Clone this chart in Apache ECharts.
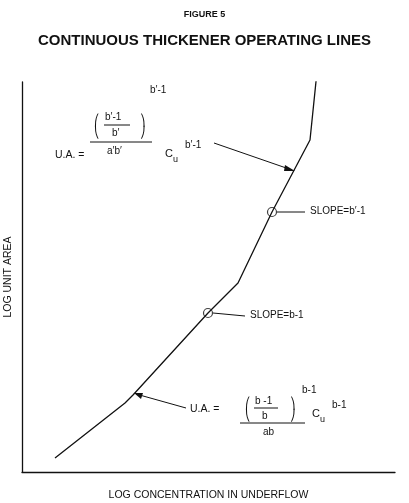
<!DOCTYPE html><html><head><meta charset="utf-8">
<script src="https://cdn.jsdelivr.net/npm/echarts@6/dist/echarts.min.js"></script>
<style>body{margin:0;background:#fff}#c{width:409px;height:503px}</style></head><body><div id="c"></div>
<script>
// log concentration (x) vs log unit area (y), arbitrary log units
const lineX = [33, 103, 111, 186, 216, 250, 288, 296];
const lineY = [14, 69, 77, 159, 189, 260, 332, 410];
const pointX = [186, 250];
const pointY = [159, 260];
const slopeLabels = ['SLOPE=b-1', "SLOPE=b\u2032-1"];
const F = 'Liberation Sans, Arial, sans-serif';
const chart = echarts.init(document.getElementById('c'));
function t(x,y,s,size,extra){return Object.assign({type:'text',x:x,y:y,style:{text:s,font:(size||10)+'px '+F,fill:'#111'}},extra||{});}
function ln(x1,y1,x2,y2){return {type:'line',shape:{x1,y1,x2,y2},style:{stroke:'#111',lineWidth:1}};}
chart.setOption({
  animation:false,
  title:[{text:'FIGURE 5',left:'center',top:5,textStyle:{fontFamily:F,fontSize:9,fontWeight:'bold',color:'#111'}},
         {text:'CONTINUOUS THICKENER OPERATING LINES',left:'center',top:28,textStyle:{fontFamily:F,fontSize:15,fontWeight:'bold',color:'#111'}}],
  grid:{left:22,right:14,top:82,bottom:31,outerBoundsMode:'none',containLabel:false},
  xAxis:{type:'value',min:0,max:373,axisLine:{lineStyle:{color:'#111',width:1.3}},axisTick:{show:false},axisLabel:{show:false},splitLine:{show:false},
    name:'LOG CONCENTRATION IN UNDERFLOW',nameLocation:'middle',nameGap:18,nameTextStyle:{fontFamily:F,fontSize:10.5,color:'#111'}},
  yAxis:{type:'value',min:0,max:390,axisLine:{show:true,lineStyle:{color:'#111',width:1.3}},axisTick:{show:false},axisLabel:{show:false},splitLine:{show:false},
    name:'LOG UNIT AREA',nameLocation:'middle',nameGap:8,nameTextStyle:{fontFamily:F,fontSize:10.5,color:'#111',verticalAlign:'bottom'}},
  series:[
    {type:'line',data:lineX.map((x,i)=>[x,lineY[i]]),symbol:'none',lineStyle:{color:'#111',width:1.3}},
    {type:'scatter',data:pointX.map((x,i)=>[x,pointY[i]]),symbol:'circle',symbolSize:9,itemStyle:{color:'#fff',borderColor:'#111',borderWidth:1.2}}
  ],
  graphic:[
    ln(213,313,245,316), t(250,310,slopeLabels[0],10),
    ln(277,212,305,212), t(310,206,slopeLabels[1],10),
    t(190,404,'U.A. =',10.5),
    t(245,398,'\u239B',11), t(245,410,'\u239D',11), t(290,398,'\u239E',11), t(290,410,'\u23A0',11),
    t(255,396,'b -1',10), ln(254,408,278,408), t(262,411,'b',10),
    t(302,385,'b-1',10), ln(240,423,305,423), t(263,427,'ab',10),
    t(312,408,'C',11), t(320,415,'u',9), t(332,400,'b-1',10),
    {type:'line',shape:{x1:186,y1:408,x2:136,y2:394},style:{stroke:'#111',lineWidth:1}},
    {type:'polygon',shape:{points:[[134,393],[143,393],[141,399]]},style:{fill:'#111'}},
    t(55,150,"U.A. =",10.5),
    t(94,115,'\u239B',11), t(94,127,'\u239D',11), t(140,115,'\u239E',11), t(140,127,'\u23A0',11),
    t(105,112,"b\u2032-1",10), ln(104,125,130,125), t(112,128,"b\u2032",10),
    t(150,85,"b\u2032-1",10), ln(90,142,152,142), t(107,146,"a\u2032b\u2032",10),
    t(165,148,'C',11), t(173,155,'u',9), t(185,140,"b\u2032-1",10),
    {type:'line',shape:{x1:214,y1:143,x2:292,y2:170},style:{stroke:'#111',lineWidth:1}},
    {type:'polygon',shape:{points:[[295,171],[285,165],[284,171]]},style:{fill:'#111'}}
  ]
});
</script></body></html>
